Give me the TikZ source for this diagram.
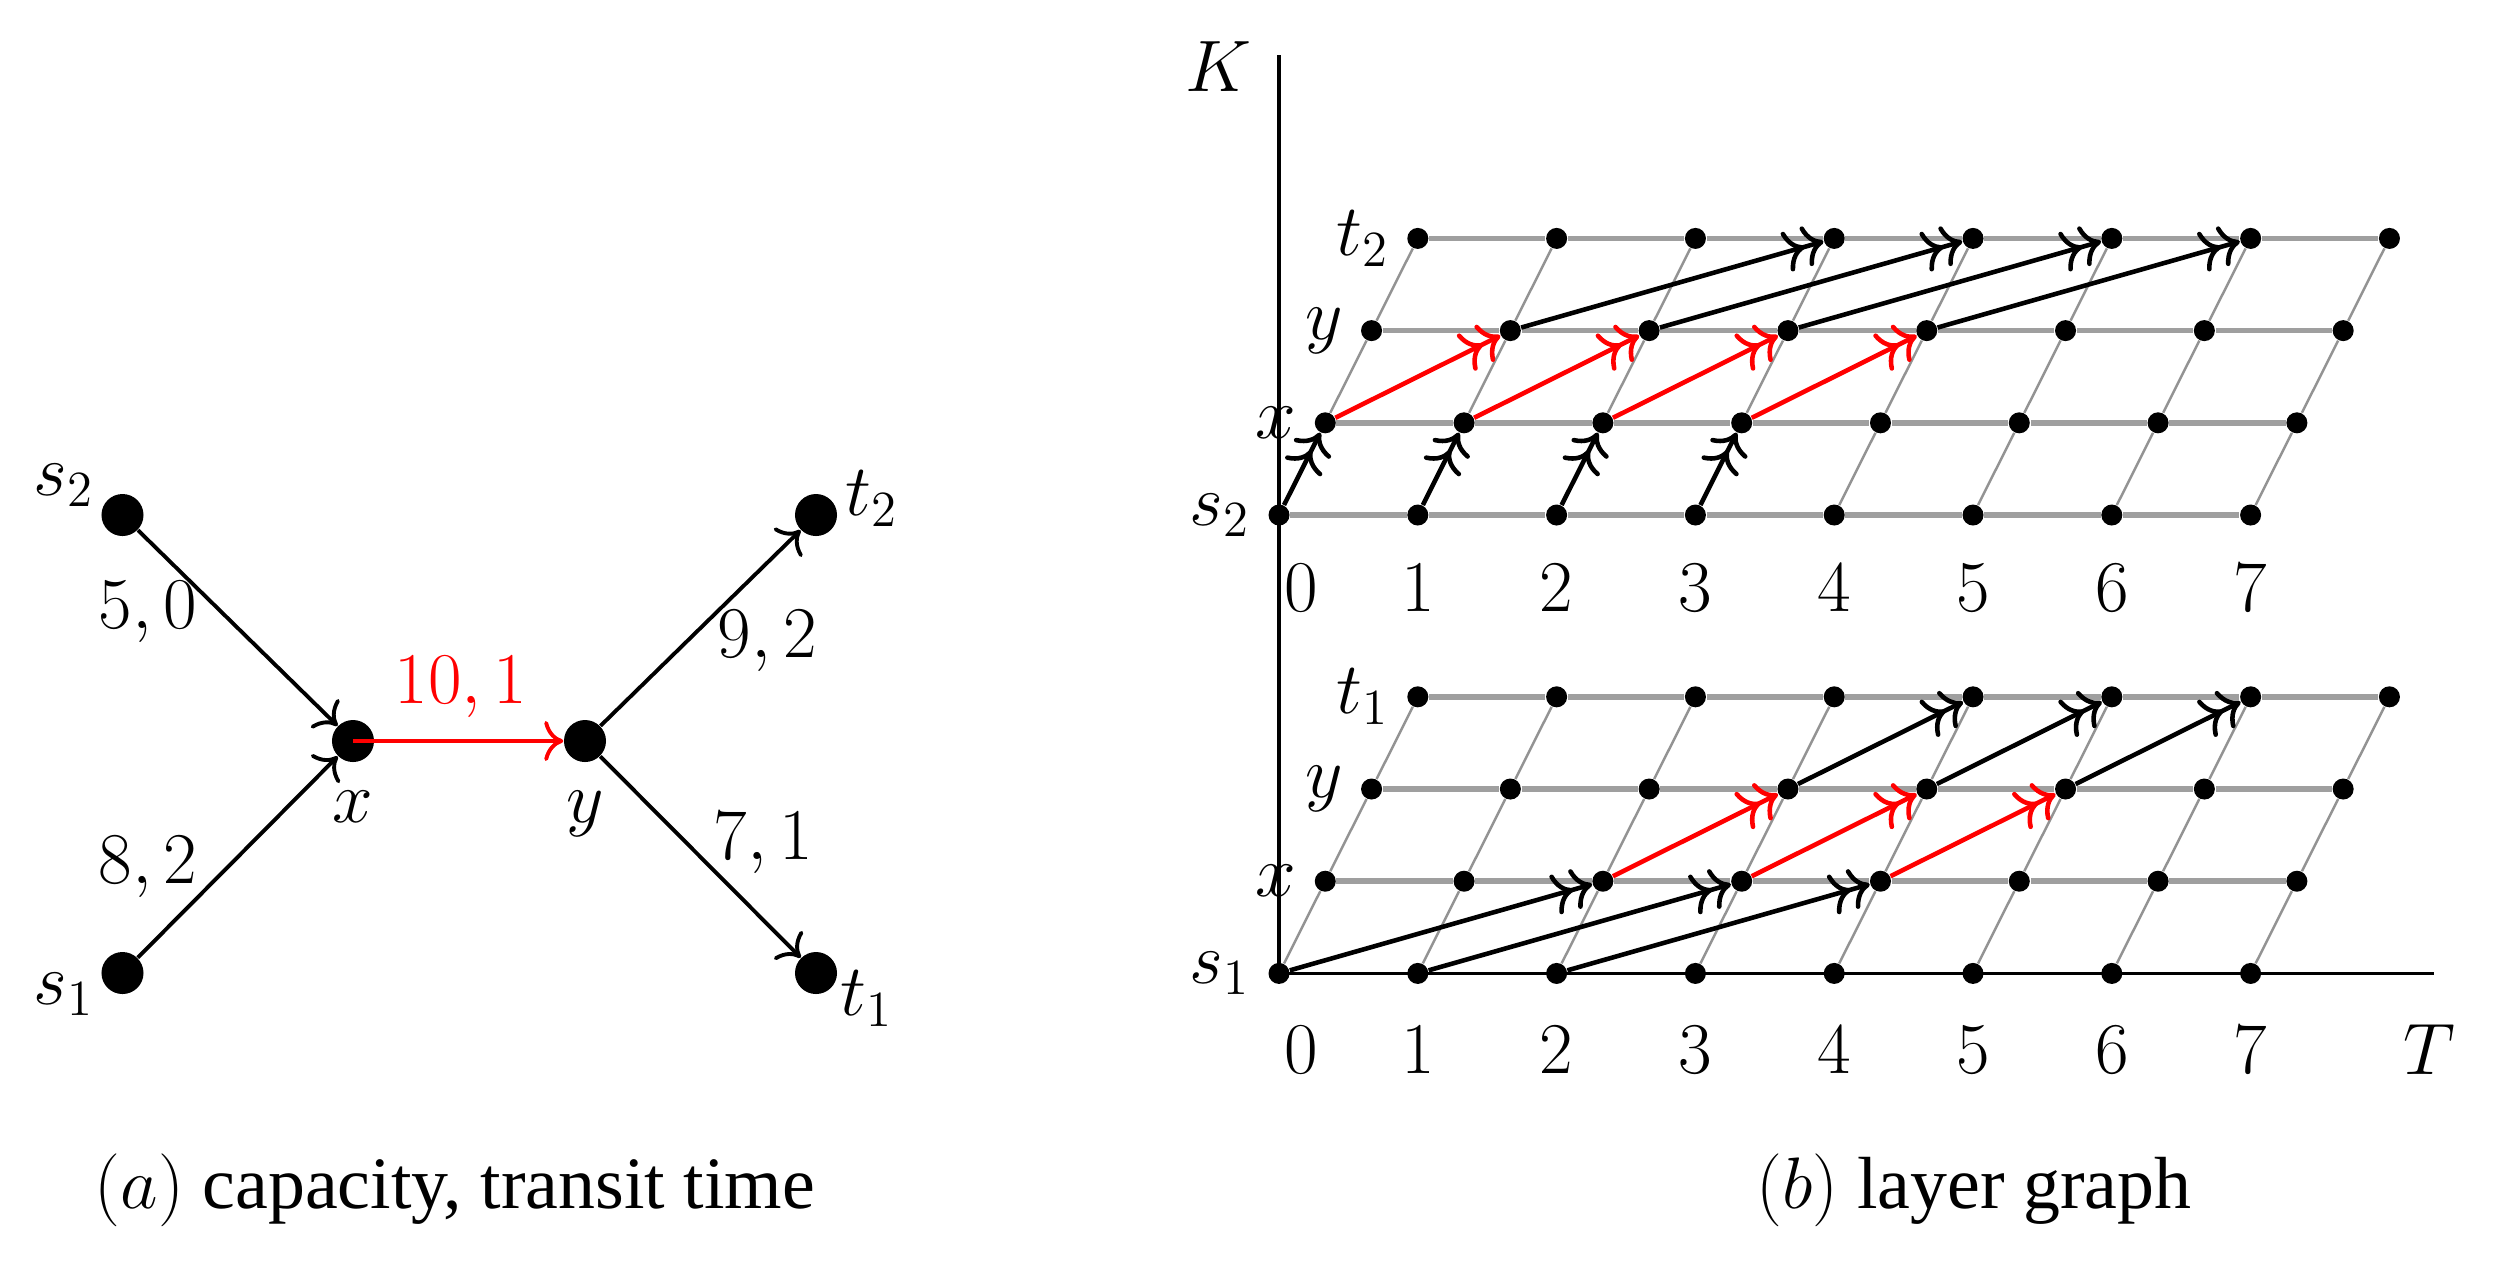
\documentclass[tikz,border=0pt]{standalone}
\usepackage[no-math]{fontspec}
\setmainfont{Liberation Serif}
\usetikzlibrary{arrows.meta,calc}
\begin{document}
\begin{tikzpicture}[x=0.01cm,y=-0.01cm,
  font=\fontsize{20}{24}\selectfont,
  bigdot/.style={circle,fill=black,inner sep=0pt,minimum size=0.42cm},
  gdot/.style={circle,fill=black,inner sep=0pt,minimum size=0.21cm},
  edge/.style={-{To[scale=1.35]},line width=1.1pt},
  larr/.style={-{To[scale=1.25] To[scale=1.25]},line width=1.3pt},
  hline/.style={draw=gray!75,line width=1.6pt},
  sline/.style={draw=gray!85,line width=0.7pt},
  axis/.style={draw=black,line width=1pt},
  lab/.style={inner sep=2pt}]
\useasboundingbox (0,0) rectangle (2494,1262);

% ---------- (a) ----------
\node[bigdot] (s2) at (122.5,515) {};
\node[bigdot] (s1) at (122.5,973) {};
\node[bigdot] (x) at (353,741) {};
\node[bigdot] (y) at (585,741) {};
\node[bigdot] (t2) at (816,515) {};
\node[bigdot] (t1) at (816,973) {};
\node[lab] (ls2) at (64,485) {$s_2$};
\node[lab] (ls1) at (64,994) {$s_1$};
\node[lab] (lt2) at (872,499) {$t_2$};
\node[lab] (lt1) at (867,999) {$t_1$};
\node[lab,anchor=base] (lx) at (353,822) {$x$};
\node[lab,anchor=base] (ly) at (585,822) {$y$};
\draw[edge] (s2) -- (x);
\draw[edge] (s1) -- (x);
\draw[edge,red] (x.center) -- (y);
\draw[edge] (y) -- (t2);
\draw[edge] (y) -- (t1);
\node[lab] (e1) at (148,612) {$5,0$};
\node[lab] (e2) at (148,867) {$8,2$};
\node[lab,red] (e3) at (461,687) {$10,1$};
\node[lab] (e4) at (767,641) {$9,2$};
\node[lab] (e5) at (763,843) {$7,1$};
\node[lab,font=\fontsize{21}{25}\selectfont] (capa) at (455,1190) {$(a)$ capacity, transit time};

% ---------- (b) ----------
\foreach \i in {0,...,7}{
  \foreach \k in {0,...,3}{
    \node[gdot] (u\i\k) at ({1279+138.8*\i+46.27*\k},{515-92.2*\k}) {};
    \node[gdot] (l\i\k) at ({1279+138.8*\i+46.27*\k},{973.4-92.2*\k}) {};
  }
}
% grid lines
\foreach \i [evaluate=\i as \j using int(\i+1)] in {0,...,6}{
  \foreach \k in {0,...,3}{
    \draw[hline] (u\i\k) -- (u\j\k);
  }
  \foreach \k in {1,...,3}{
    \draw[hline] (l\i\k) -- (l\j\k);
  }
}
\foreach \i in {0,...,7}{
  \foreach \k [evaluate=\k as \kk using int(\k+1)] in {0,1,2}{
    \draw[sline] (u\i\k) -- (u\i\kk);
    \draw[sline] (l\i\k) -- (l\i\kk);
  }
}
% axes
\coordinate (Ktop) at (1279,55);
\coordinate (Tend) at (2434,973.4);
\draw[axis] (Ktop) -- (l00.center) -- (Tend);
\node[lab] (K) at (1218,67) {$K$};
\node[lab] (T) at (2429,1050) {$T$};

% row labels
\node[lab,anchor=east,xshift=-0.1cm] (ut) at (u03.west) {$t_2$};
\node[lab,anchor=east,xshift=-0.1cm] (uy) at (u02.west) {$y$};
\node[lab,anchor=east,xshift=-0.1cm] (ux) at (u01.west) {$x$};
\node[lab,anchor=east,xshift=-0.1cm] (us) at (u00.west) {$s_2$};
\node[lab,anchor=east,xshift=-0.1cm] (lt) at (l03.west) {$t_1$};
\node[lab,anchor=east,xshift=-0.1cm] (ly2) at (l02.west) {$y$};
\node[lab,anchor=east,xshift=-0.1cm] (lx2) at (l01.west) {$x$};
\node[lab,anchor=east,xshift=-0.1cm] (ls) at (l00.west) {$s_1$};

% time numbers
\node[lab] (un0) at (1301,588) {$0$};
\node[lab] (ln0) at (1301,1050) {$0$};
\foreach \i in {1,...,7}{
  \node[lab] (un\i) at ({1279+138.8*\i},588) {$\i$};
  \node[lab] (ln\i) at ({1279+138.8*\i},1050) {$\i$};
}

% commodity 2 paths (upper)
\foreach \i [evaluate=\i as \j using int(\i+1), evaluate=\i as \m using int(\i+3)] in {0,...,3}{
  \draw[larr] (u\i0) -- (u\i1);
  \draw[larr,red] (u\i1) -- (u\j2);
  \draw[larr] (u\j2) -- (u\m3);
}
% commodity 1 paths (lower)
\foreach \i [evaluate=\i as \a using int(\i+2), evaluate=\i as \b using int(\i+3), evaluate=\i as \c using int(\i+4)] in {0,1,2}{
  \draw[larr] (l\i0) -- (l\a1);
  \draw[larr,red] (l\a1) -- (l\b2);
  \draw[larr] (l\b2) -- (l\c3);
}

\node[lab,font=\fontsize{21}{25}\selectfont] (capb) at (1974,1190) {$(b)$ layer graph};
\end{tikzpicture}
\end{document}
